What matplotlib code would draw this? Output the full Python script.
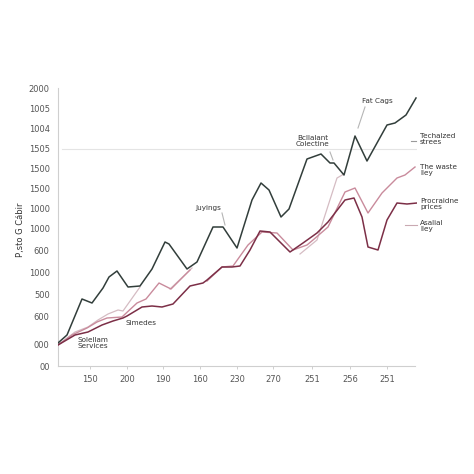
import matplotlib
matplotlib.use("Agg")
import matplotlib.pyplot as plt
import numpy as np

# ---- data (arbitrary linear units) ----
dark_x = [0, 9, 24, 34, 45, 51, 59, 70, 82, 94, 107, 111, 129, 139, 155, 165, 179, 194, 203, 211,
          223, 231, 249, 263, 272, 276, 286, 297, 309, 329, 337, 348, 358]
dark_y = [23, 31, 67, 63, 78, 89, 95, 79, 80, 97, 124, 122, 97, 104, 139, 139, 118, 166, 183, 176,
          149, 157, 207, 212, 203, 203, 191, 230, 205, 241, 243, 251, 268]

maroon_x = [0, 17, 30, 44, 55, 65, 69, 84, 94, 104, 115, 132, 145, 149, 164, 174, 182, 192, 202, 212,
            232, 245, 259, 270, 287, 296, 304, 310, 320, 329, 339, 349, 359]
maroon_y = [21, 31, 34, 41, 45, 48, 50, 59, 60, 59, 62, 80, 83, 86, 99, 99, 100, 116, 135, 134,
            114, 123, 133, 144, 166, 168, 149, 119, 116, 146, 163, 162, 163]

pink_x = [0, 14, 29, 39, 49, 64, 79, 88, 101, 113, 132, np.nan,
          149, 164, 175, 190, 204, 219, 235, 249, 255, 270, 287, 297, 310, 324, 339, 347, 357]
pink_y = [21, 31, 38, 44, 48, 49, 63, 67, 83, 77, 96, np.nan,
          85, 99, 100, 121, 134, 133, 116, 121, 126, 139, 174, 178, 153, 173, 188, 191, 199]

light_x = [0, 17, 30, 40, 50, 60, 65, 82, np.nan, 112, 134, np.nan, 242, 259, 279, 286]
light_y = [21, 34, 39, 46, 52, 56, 55, 79, np.nan, 77, 98, np.nan, 112, 126, 188, 192]

ytick_pos = [278, 258, 237, 217, 197, 177, 157, 137, 116, 94, 72, 49, 22, 0]
ytick_labels = ["2000", "1005", "1004", "1505", "1500", "1500", "1000", "1000", "600",
                "1000", "500", "600", "000", "00"]
xtick_pos = [32, 69, 105, 142, 179, 215, 254, 292, 329]
xtick_labels = ["150", "200", "190", "160", "230", "270", "251", "256", "251"]

grid_level = 217
ylabel = "P,sto G Cábir"

# annotations: (text, x, y, ha)
labels = [
    ("Solellam\nServices", 20, 23, "left"),
    ("Simedes", 67, 43, "left"),
    ("Juyings", 137, 158, "left"),
    ("Bcllalant\nColectine", 255, 225, "center"),
    ("Fat Cags", 304, 265, "left"),
    ("Techalzed\nstrees", 362, 227, "left"),
    ("The waste\nlley", 362, 196, "left"),
    ("Procraidne\nprices", 362, 162, "left"),
    ("Asalial\nlley", 362, 140, "left"),
]
leaders = [
    ((164, 153), (167, 141), "#b5b5b5"),
    ((272, 214), (275, 206), "#b5b5b5"),
    ((307, 259), (300, 238), "#b5b5b5"),
    ((353, 225), (358, 225), "#9a9a9a"),
    ((347, 141), (359, 141), "#c9a9b2"),
]

fig = plt.figure(figsize=(4.74, 4.74), dpi=100)
fig.patch.set_facecolor("white")
ax = fig.add_axes([58 / 474, 108 / 474, 359 / 474, 278 / 474])

ax.axhline(grid_level, color="#e4e4e4", lw=0.8, zorder=0, xmin=0.01, xmax=1.0)

ax.plot(light_x, light_y, color="#d5bcc3", lw=0.9, zorder=2)
ax.plot(pink_x, pink_y, color="#c98b9c", lw=1.0, zorder=3)
ax.plot(maroon_x, maroon_y, color="#7c2f47", lw=1.1, zorder=4)
ax.plot(dark_x, dark_y, color="#323e3b", lw=1.1, zorder=5)

for (x0, y0), (x1, y1), c in leaders:
    ax.plot([x0, x1], [y0, y1], color=c, lw=0.8, clip_on=False, zorder=1)

for txt, x, y, ha in labels:
    ax.text(x, y, txt, ha=ha, va="center", fontsize=5.2, color="#333333",
            linespacing=0.95, clip_on=False)

ax.set_xlim(0, 359)
ax.set_ylim(0, 278)
ax.set_xticks(xtick_pos)
ax.set_xticklabels(xtick_labels)
ax.set_yticks(ytick_pos)
ax.set_yticklabels(ytick_labels)
ax.tick_params(axis="x", length=2.5, width=0.6, color="#c8c8c8", labelsize=6,
               labelcolor="#555555", pad=4)
ax.tick_params(axis="y", length=0, labelsize=6, labelcolor="#555555", pad=6)

for s in ["top", "right"]:
    ax.spines[s].set_visible(False)
for s in ["left", "bottom"]:
    ax.spines[s].set_color("#cfcfcf")
    ax.spines[s].set_linewidth(0.8)
ax.spines["bottom"].set_bounds(0, 357)

fig.text(20 / 474, 1 - 230 / 474, ylabel, rotation=90, ha="center", va="center",
         fontsize=6.0, color="#333333")

fig.savefig("out.png", dpi=100, facecolor="white")
